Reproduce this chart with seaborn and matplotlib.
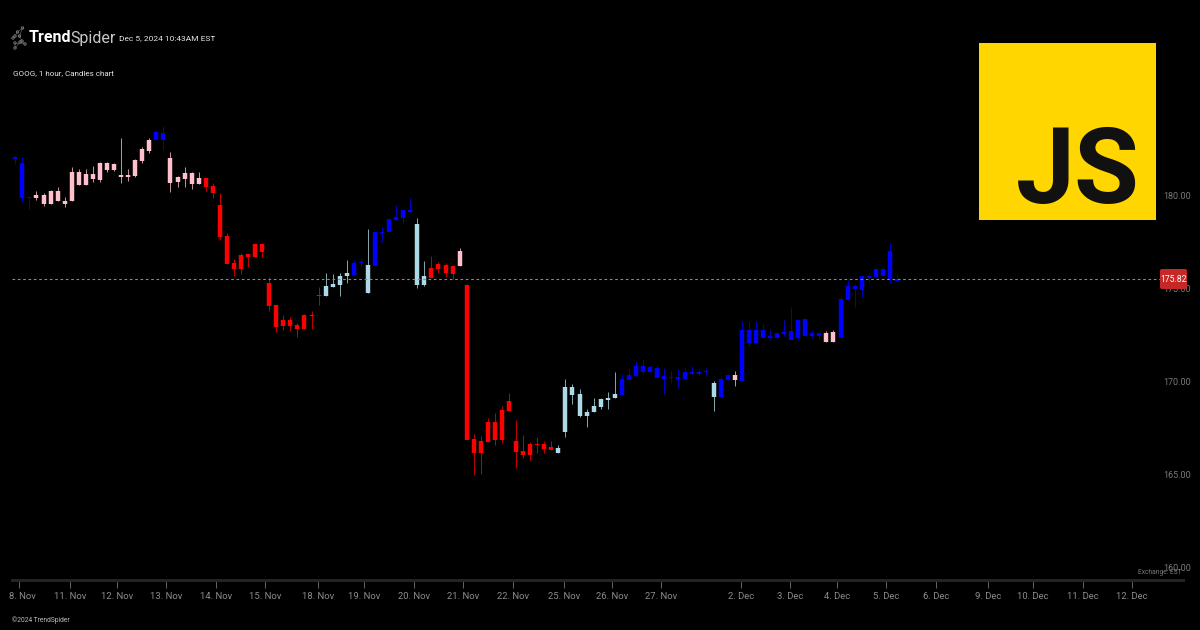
#!/usr/bin/env python3
# -*- coding: utf-8 -*-
## GOOG 1 hour candles, TrendSpider look, black background
import pandas as pd
import matplotlib
matplotlib.use("Agg")
import matplotlib.pyplot as plt
from matplotlib.patches import FancyBboxPatch, Rectangle
from matplotlib.transforms import ScaledTranslation
import seaborn as sns

## candle data, one value per hourly bar
highs = [182.15, 182.02, 179.95, 180.21, 180.11, 180.27, 180.45, 179.88, 181.49, 181.41,
         181.41, 181.56, 181.75, 181.77, 181.73, 183.06, 181.41, 181.91, 182.56, 183.04,
         183.49, 183.70, 182.29, 181.02, 181.49, 181.25, 181.25, 180.90, 180.63, 180.09,
         177.95, 176.55, 176.87, 176.84, 177.41, 177.41, 175.59, 174.12, 173.57, 173.44,
         173.15, 173.60, 173.80, 175.05, 175.80, 175.75, 175.80, 176.51, 176.51, 176.58,
         178.16, 178.03, 178.27, 178.71, 179.46, 179.20, 179.86, 178.78, 176.45, 176.73,
         176.42, 176.34, 176.21, 177.17, 175.23, 167.17, 167.09, 168.03, 168.30, 168.69,
         169.40, 167.94, 167.12, 166.76, 167.02, 166.81, 166.81, 166.60, 170.13, 169.87,
         169.61, 168.53, 169.10, 169.10, 169.45, 170.49, 170.39, 170.65, 171.12, 171.19,
         170.89, 170.89, 170.74, 170.56, 170.67, 170.71, 170.83, 170.65, 170.71, 170.03,
         170.26, 170.35, 170.56, 173.24, 173.17, 173.24, 173.08, 172.76, 172.67, 173.30,
         173.98, 173.33, 173.33, 172.76, 172.60, 172.71, 172.76, 174.55, 175.44, 175.23,
         175.64, 175.80, 176.02, 176.10, 177.41, 175.76]
lows = [181.66, 179.64, 179.25, 179.73, 179.41, 179.52, 179.69, 179.36, 179.66, 180.55,
        180.55, 180.68, 180.71, 181.25, 181.30, 180.66, 180.77, 180.98, 181.70, 182.27,
        182.95, 182.41, 180.16, 180.45, 180.45, 180.34, 180.57, 180.21, 179.82, 177.59,
        176.32, 175.67, 175.75, 176.14, 176.66, 176.66, 173.80, 172.65, 172.76, 172.71,
        172.40, 172.83, 172.83, 174.09, 174.60, 175.05, 174.60, 175.30, 175.73, 176.12,
        174.76, 176.19, 177.50, 178.03, 178.66, 178.48, 179.11, 175.00, 175.12, 175.57,
        175.80, 175.62, 175.50, 176.19, 166.86, 164.99, 165.04, 166.76, 166.61, 166.72,
        168.42, 165.38, 165.90, 165.79, 166.18, 166.18, 166.33, 166.18, 167.04, 168.81,
        168.11, 167.58, 168.35, 168.53, 168.53, 169.10, 169.28, 170.08, 170.30, 170.42,
        170.53, 170.19, 169.33, 169.90, 169.72, 170.12, 170.42, 170.30, 170.35, 168.42,
        169.17, 170.08, 169.77, 170.01, 171.92, 172.06, 172.35, 172.22, 172.26, 172.44,
        172.24, 172.22, 172.46, 172.35, 172.32, 172.13, 172.13, 172.35, 174.37, 174.01,
        174.55, 175.35, 175.62, 175.67, 175.27, 175.41]
body_tops = [182.02, 181.70, 179.88, 179.98, 179.98, 180.20, 180.20, 179.69, 181.23, 181.23,
             181.13, 181.13, 181.70, 181.70, 181.65, 181.07, 181.07, 181.88, 182.45, 182.95,
             183.38, 183.31, 181.98, 180.97, 181.18, 181.18, 180.90, 180.90, 180.50, 179.46,
             177.80, 176.37, 176.78, 176.84, 177.36, 177.36, 175.28, 174.09, 173.28, 173.28,
             173.05, 173.57, 173.57, 174.65, 175.10, 175.23, 175.67, 175.80, 176.35, 176.42,
             176.26, 178.03, 178.03, 178.71, 178.82, 179.20, 179.20, 178.45, 175.64, 176.09,
             176.32, 176.26, 176.21, 177.00, 175.17, 166.92, 166.81, 167.83, 167.83, 168.47,
             168.94, 166.81, 166.29, 166.65, 166.65, 166.65, 166.49, 166.42, 169.69, 169.69,
             169.33, 168.35, 168.69, 169.05, 169.12, 169.33, 170.12, 170.33, 170.81, 170.81,
             170.76, 170.71, 170.30, 170.24, 170.24, 170.53, 170.53, 170.53, 170.58, 169.90,
             170.12, 170.35, 170.36, 172.76, 172.76, 172.76, 172.76, 172.44, 172.60, 172.65,
             172.71, 173.30, 173.33, 172.60, 172.60, 172.60, 172.65, 174.42, 175.12, 175.12,
             175.64, 175.67, 176.02, 176.02, 177.00, 175.48]
body_bottoms = [181.93, 179.82, 179.82, 179.82, 179.53, 179.53, 179.69, 179.52, 179.69, 180.55,
                180.55, 180.84, 180.79, 181.34, 181.34, 180.97, 180.97, 181.02, 181.82, 182.38,
                182.95, 182.95, 180.66, 180.71, 180.87, 180.61, 180.61, 180.43, 180.09, 177.75,
                176.32, 176.03, 176.03, 176.66, 176.66, 176.94, 174.03, 172.94, 172.99, 172.99,
                172.83, 172.83, 173.53, 174.60, 174.60, 175.05, 175.17, 175.67, 175.73, 176.34,
                174.76, 176.19, 177.96, 178.03, 178.66, 178.77, 179.11, 175.17, 175.17, 175.57,
                176.03, 175.80, 175.75, 176.19, 166.86, 166.17, 166.17, 166.76, 166.86, 166.86,
                168.42, 166.24, 166.06, 166.06, 166.60, 166.40, 166.33, 166.18, 167.28, 169.28,
                168.17, 168.17, 168.35, 168.63, 168.99, 169.10, 169.28, 170.08, 170.30, 170.53,
                170.53, 170.19, 170.12, 170.19, 170.12, 170.12, 170.42, 170.42, 170.49, 169.17,
                169.17, 170.08, 170.08, 170.01, 172.06, 172.06, 172.35, 172.35, 172.35, 172.53,
                172.24, 172.32, 172.46, 172.46, 172.46, 172.13, 172.13, 172.35, 174.37, 174.94,
                174.89, 175.57, 175.62, 175.67, 175.48, 175.41]
## one letter per bar: b blue, p pink, r red, l light blue
bar_states = list("bbb" "ppppppppppppppppp" "bb" "ppppp" "rrrrrrrrrrrrrrrrr" "llll" "bb" "l"
                  "bbbbbb" "ll" "rrrr" "p" "rrrrrrrrrrrrr" "lllllllll" "bbbbbbbbbbbbb" "l"
                  "bb" "p" "bbbbbbbbbbbb" "pp" "bbbbbbbbb")

## axis data
date_labels = ["8. Nov", "11. Nov", "12. Nov", "13. Nov", "14. Nov", "15. Nov", "18. Nov",
               "19. Nov", "20. Nov", "21. Nov", "22. Nov", "25. Nov", "26. Nov", "27. Nov",
               "2. Dec", "3. Dec", "4. Dec", "5. Dec", "6. Dec", "9. Dec", "10. Dec",
               "11. Dec", "12. Dec"]
date_bars = [0.48, 7.8, 14.46, 21.41, 28.5, 35.45, 42.92, 49.44, 56.53, 63.48, 70.57, 77.8,
             84.6, 91.55, 102.89, 109.84, 116.5, 123.45, 130.54, 137.92, 144.3, 151.38, 158.33]
price_ticks = [160, 165, 170, 175, 180]
last_line_level = 175.48
last_price_text = "175.82"

state_colors = {"b": "#0000FF", "p": "#FFC0CB", "r": "#FF0000", "l": "#ADD8E6"}

sns.set_theme(style="dark", rc={"figure.facecolor": "black", "axes.facecolor": "black",
                                "savefig.facecolor": "black"})
plt.rcParams["font.family"] = ["Roboto", "DejaVu Sans"]

## long tables, each candle gets two rows so lineplot draws one vertical segment per bar
bars = pd.DataFrame({"bar": range(len(highs)), "high": highs, "low": lows, "top": body_tops,
                     "bottom": body_bottoms, "state": bar_states})
wicks = bars.melt(id_vars=["bar", "state"], value_vars=["high", "low"], value_name="price")
bodies = bars.melt(id_vars=["bar", "state"], value_vars=["top", "bottom"], value_name="price")

fig = plt.figure(figsize=(12, 6.3), dpi=100)
W, H = 1200, 630
ax = fig.add_axes([12 / W, 1 - 580 / H, (1183 - 12) / W, (580 - 100) / H])

sns.lineplot(data=wicks, x="bar", y="price", hue="state", units="bar", estimator=None,
             palette=state_colors, linewidth=0.72, alpha=0.75, legend=False, ax=ax,
             solid_capstyle="butt")
sns.lineplot(data=bodies, x="bar", y="price", hue="state", units="bar", estimator=None,
             palette=state_colors, linewidth=3.2, legend=False, ax=ax,
             solid_capstyle="butt")

ax.set_xlim(-0.468, 165.56)
ax.set_ylim(159.356, 185.094)
ax.axhline(last_line_level, color="#8a8a8a", lw=0.8, dashes=(2.4, 2.4), zorder=5)

ax.set_xticks(date_bars)
ax.set_xticklabels(date_labels)
ax.set_yticks(price_ticks)
ax.set_yticklabels(["%.2f" % p for p in price_ticks])
ax.set(xlabel="", ylabel="")
ax.grid(False)
for side in ["top", "left", "right"]:
    ax.spines[side].set_visible(False)
ax.spines["bottom"].set_color("#242424")
ax.spines["bottom"].set_linewidth(2.2)
ax.tick_params(axis="x", colors="#8c8c8c", length=6, width=0.5, pad=2.5, labelsize=6.8, bottom=True)
ax.tick_params(axis="y", left=False, right=False, labelleft=False, labelright=True, length=0,
               pad=-14, labelsize=6.5, labelcolor="#7a7a7a")
for lab in ax.get_yticklabels():
    lab.set_ha("left")
## first date label sits right of its tick
first_label = ax.get_xticklabels()[0]
first_label.set_transform(first_label.get_transform() + ScaledTranslation(4 / 100, 0, fig.dpi_scale_trans))

## overlay in pixels for the header, badge and logo
over = fig.add_axes([0, 0, 1, 1], facecolor="none")
over.set_xlim(0, W)
over.set_ylim(H, 0)
over.axis("off")

## last price badge
over.add_patch(FancyBboxPatch((1160, 269), 27, 20, boxstyle="round,pad=0,rounding_size=2",
                              fc="#C62828", ec="none", zorder=6))
over.text(1173.5, 279, last_price_text, color="white", fontsize=6.2, ha="center", va="center",
          zorder=7)

## header text
over.text(29, 38, "Trend", color="white", fontsize=11.5, fontweight="bold", va="center")
over.text(70, 38, "Spider", color="#c8c8c8", fontsize=11.5, va="center")
over.text(119, 38, "Dec 5, 2024 10:43AM EST", color="#e6e6e6", fontsize=6, va="center")
over.text(13, 73, "GOOG, 1 hour, Candles chart", color="#e6e6e6", fontsize=5.8, va="center")
over.text(12, 620, "©2024 TrendSpider", color="#bdbdbd", fontsize=4.8, va="center")
over.text(1182, 573, "Exchange: EST", color="#7a7a7a", fontsize=4.8, ha="right", va="center")

## spider mark
spider_x = [13, 15, 17.5, 22.5, 19.5, 22, 25, 15, 15, 20]
spider_y = [38, 36, 32, 28, 36, 41, 44, 43, 48, 42]
over.plot(spider_x, spider_y, lw=0.4, color="#6a6a6a")
over.scatter(spider_x, spider_y, s=3, facecolor="none", edgecolor="#a0a0a0", linewidth=0.5)

## JS logo
over.add_patch(Rectangle((979, 43), 177, 177, fc="#FFD600", ec="none"))
over.text(1140, 203, "JS", color="#111111", fontsize=76, fontweight="bold", ha="right",
          va="baseline")

fig.savefig("out.png", dpi=100)
